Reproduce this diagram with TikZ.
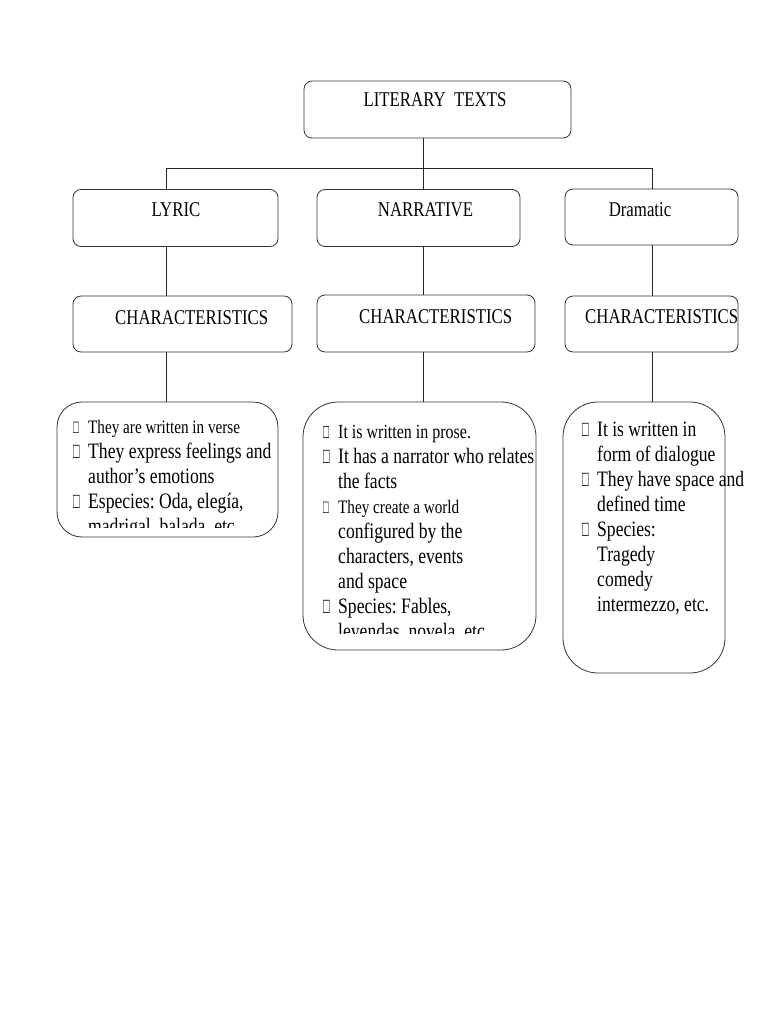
\documentclass[tikz,border=0pt]{standalone}
\usepackage{fontspec}
\setmainfont{Liberation Serif}[FakeStretch=0.8]
\newfontfamily\tofufont{Liberation Serif}[FakeStretch=0.5]
\usepackage{tikz}
\usetikzlibrary{positioning,calc}

\newcommand{\tofu}{{\tofufont □}}
\newcommand{\listbullet}{\makebox[15pt][l]{\tofu}}
\newcommand{\listindent}{\hspace*{15pt}}
\newcommand{\tightspace}{\frenchspacing\spaceskip=0.2em\relax}
\newcommand{\smalltxt}{\fontsize{19}{25}\selectfont\tightspace}

\begin{document}
\begin{tikzpicture}[
    x=1pt, y=-1pt,
    % Define styles
    headbox/.style={rectangle, rounded corners=8pt, draw=black!80, line width=0.8pt, inner sep=0pt},
    listbox/.style={rectangle, draw=black!80, line width=0.8pt, inner sep=0pt},
    headtext/.style={font=\fontsize{21}{25}\selectfont, inner sep=0pt, anchor=base},
    listtext/.style={font=\fontsize{22}{25}\selectfont, execute at begin node=\tightspace, inner sep=0pt, anchor=base west, text width=240pt, align=left},
    link/.style={line width=0.8pt, black!85}
]
\useasboundingbox (0,0) rectangle (768,1024);

% Top box
\node[headbox, minimum width=267pt, minimum height=57pt] (litBox) at (437.5,109.5) {};
\node[headtext] (litText) at (435,107) {LITERARY\ \ TEXTS};

% Genre boxes
\node[headbox, minimum width=205pt, minimum height=57pt] (lyricBox) at (175.5,218) {};
\node[headbox, minimum width=203pt, minimum height=57pt] (narrBox) at (418.5,218) {};
\node[headbox, minimum width=173pt, minimum height=56pt] (dramBox) at (651.5,217) {};
\node[headtext] (lyricText) at (176,217) {LYRIC};
\node[headtext] (narrText) at (425.5,217) {NARRATIVE};
\node[headtext] (dramText) at (640,217) {Dramatic};

% Characteristics boxes
\node[headbox, minimum width=219pt, minimum height=56pt] (lyricChar) at (182.5,324) {};
\node[headbox, minimum width=218pt, minimum height=57pt] (narrChar) at (426,323.5) {};
\node[headbox, minimum width=173pt, minimum height=56pt] (dramChar) at (651.5,324) {};
\node[headtext, anchor=base west] (lyricCharText) at (115,324) {CHARACTERISTICS};
\node[headtext, anchor=base west] (narrCharText) at (359,323) {CHARACTERISTICS};
\node[headtext, anchor=base west] (dramCharText) at (585,323) {CHARACTERISTICS};

% List boxes
\node[listbox, rounded corners=25pt, minimum width=221pt, minimum height=135pt] (lyricList) at (167.5,469.5) {};
\node[listbox, rounded corners=35pt, minimum width=233pt, minimum height=248pt] (narrList) at (419.5,526) {};
\node[listbox, rounded corners=35pt, minimum width=162pt, minimum height=271pt] (dramList) at (644,537.5) {};

% Branch points
\coordinate (barL) at (166,168);
\coordinate (hub) at (423,168);
\coordinate (barR) at (652,168);

% Connections
\draw[link] (litBox.south -| hub) -- (narrBox.north -| hub);
\draw[link] (barL) -- (barR);
\draw[link] (barL) -- (lyricBox.north -| barL);
\draw[link] (barR) -- (dramBox.north -| barR);
\draw[link] (lyricBox.south -| barL) -- (lyricChar.north -| barL);
\draw[link] (narrBox.south -| hub) -- (narrChar.north -| hub);
\draw[link] (dramBox.south -| barR) -- (dramChar.north -| barR);
\draw[link] (lyricChar.south -| barL) -- (lyricList.north -| barL);
\draw[link] (narrChar.south -| hub) -- (narrList.north -| hub);
\draw[link] (dramChar.south -| barR) -- (dramList.north -| barR);

% Lyric list
\begin{scope}
\clip (lyricList.north west) rectangle (lyricList.east |- 0,527);
\node[listtext] (lyricItems) at (73,433) {
    {\smalltxt\listbullet They are written in verse}\\
    \listbullet They express feelings and\\
    \listindent author's emotions\\
    \listbullet Especies: Oda, elegía,\\
    \listindent madrigal, balada, etc.
};
\end{scope}

% Narrative list
\begin{scope}
\clip (narrList.north west) rectangle (narrList.east |- 0,633);
\node[listtext] (narrItems) at (323,438) {
    {\fontsize{20}{25}\selectfont\tightspace\listbullet It is written in prose.}\\
    \listbullet It has a narrator who relates\\
    \listindent the facts\\
    {\smalltxt\listbullet They create a world}\\
    \listindent configured by the\\
    \listindent characters, events\\
    \listindent and space\\
    \listbullet Species: Fables,\\
    \listindent leyendas, novela, etc.
};
\end{scope}

% Dramatic list
\node[listtext] (dramItems) at (582,436) {
    \listbullet It is written in\\
    \listindent form of dialogue\\
    \listbullet They have space and\\
    \listindent defined time\\
    \listbullet Species:\\
    \listindent Tragedy\\
    \listindent comedy\\
    \listindent intermezzo, etc.
};

\end{tikzpicture}
\end{document}
